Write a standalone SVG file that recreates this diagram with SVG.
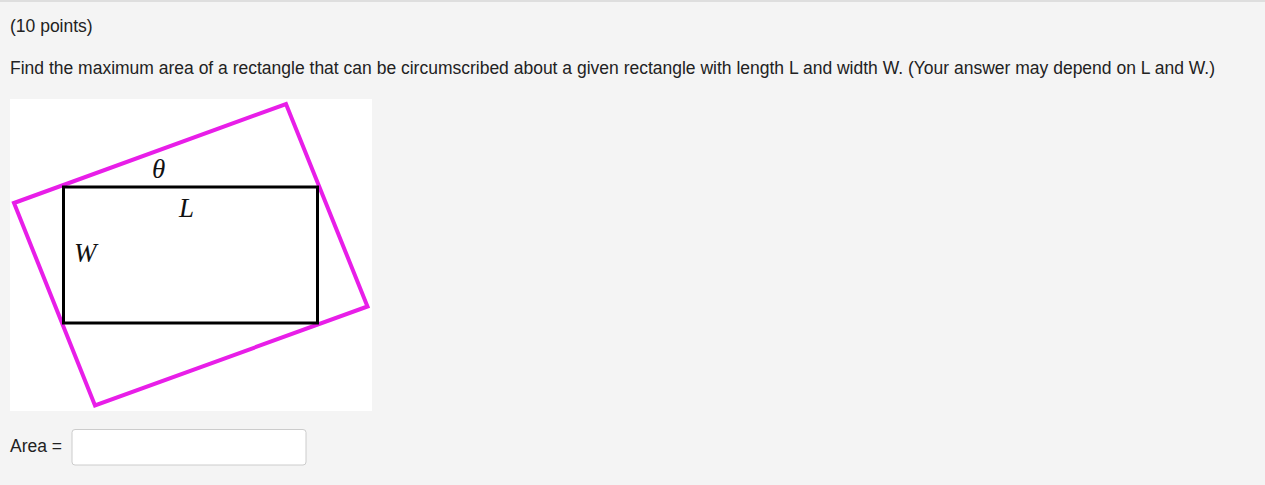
<svg xmlns="http://www.w3.org/2000/svg" width="1265" height="485" viewBox="0 0 1265 485">
<style>
.t{font-family:"Liberation Sans",Arial,sans-serif;font-size:17.5px;fill:#222}
.m{font-family:"Liberation Serif","Times New Roman",serif;font-style:italic;font-size:27px;fill:#111}
</style>
<rect width="1265" height="485" fill="#f4f4f4"/>
<line x1="0" y1="1" x2="1265" y2="1" stroke="#dedede" stroke-width="2"/>
<g id="header">
<text class="t" x="10" y="32">(10 points)</text>
<text class="t" x="10" y="74" textLength="1205" lengthAdjust="spacing">Find the maximum area of a rectangle that can be circumscribed about a given rectangle with length L and width W. (Your answer may depend on L and W.)</text>
</g>
<g id="figure">
<rect x="10" y="99" width="362" height="312" fill="#fff"/>
<polygon points="14,203 286,104 367.5,306.5 95,405.5" fill="none" stroke="#e81ee8" stroke-width="4"/>
<rect x="63.5" y="187" width="254" height="136" fill="none" stroke="#000" stroke-width="3"/>
<text class="m" x="152" y="178">θ</text>
<text class="m" x="179" y="217">L</text>
<text class="m" x="74" y="262">W</text>
</g>
<g id="answer">
<text class="t" x="10" y="452">Area =</text>
<rect x="72" y="429.5" width="234" height="35.5" rx="3" fill="#fff" stroke="#ccc" stroke-width="1"/>
</g>
</svg>
